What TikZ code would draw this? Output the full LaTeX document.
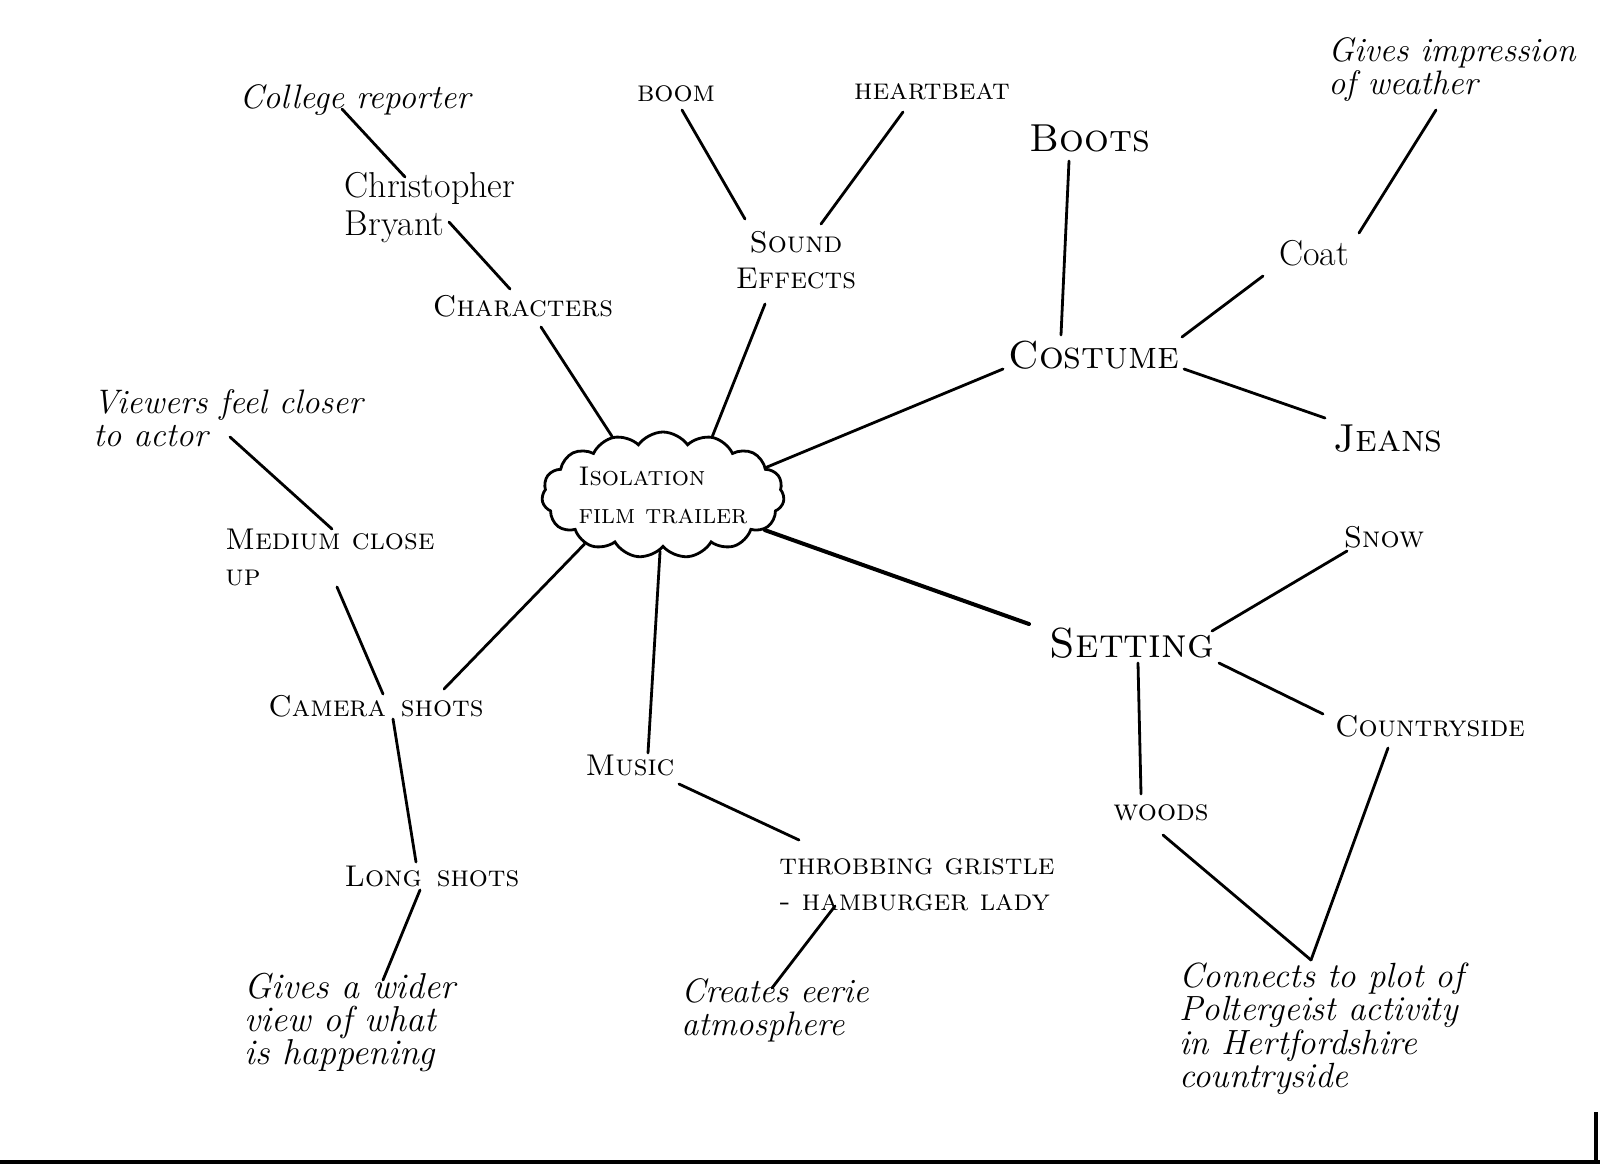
\documentclass[tikz,border=0pt]{standalone}
\usetikzlibrary{shapes.symbols,calc}
\begin{document}
\begin{tikzpicture}[x=0.5pt,y=-0.5pt,
  lbl/.style={inner sep=1pt, font=\fontsize{15}{18}\selectfont, align=center},
  bigl/.style={inner sep=1pt, font=\fontsize{19.5}{22}\selectfont},
  hand/.style={inner sep=1pt, font=\fontsize{17}{16.5}\selectfont\itshape, align=left},
  print/.style={inner sep=1pt, font=\fontsize{18}{19}\selectfont, align=left},
  link/.style={line width=1.4pt, line cap=round},
  thick link/.style={line width=2pt, line cap=round},
  cloudnode/.style={cloud, draw, line width=1.4pt, cloud puffs=15, cloud puff arc=110,
    cloud ignores aspect, minimum width=101pt, minimum height=63pt, inner sep=0pt, align=left,
    font=\fontsize{13.5}{19}\selectfont}]
\useasboundingbox (0,0) rectangle (1600,1164);
\fill[white] (0,0) rectangle (1600,1164);
% scan edges
\fill[black] (0,1160) rectangle (1600,1164);
\fill[black] (1594,1112) rectangle (1598,1164);

% centre
\node[cloudnode] (core) at (663,495) {\textsc{Isolation}\\\textsc{film trailer}};

% characters branch
\node[lbl] (characters) at (523,306) {\textsc{Characters}};
\node[print] (christopher) at (430,208) {Christopher\\Bryant};
\node[hand] (college) at (355,100) {College reporter};

% sound branch
\node[lbl] (sound) at (796,260) {\textsc{Sound}\\\textsc{Effects}};
\node[lbl] (boom) at (676,94) {\textsc{boom}};
\node[lbl] (heartbeat) at (932,92) {\textsc{heartbeat}};

% costume branch
\node[bigl] (costume) at (1094,355) {\textsc{Costume}};
\node[bigl] (boots) at (1090,138) {\textsc{Boots}};
\node[print] (coat) at (1314,253) {Coat};
\node[hand] (gives) at (1452,69) {Gives impression\\of weather};
\node[bigl] (jeans) at (1388,439) {\textsc{Jeans}};

% setting branch
\node[bigl, font=\fontsize{21}{22}\selectfont] (setting) at (1132,643) {\textsc{Setting}};
\node[lbl] (snow) at (1384,537) {\textsc{Snow}};
\node[lbl] (countryside) at (1430,726) {\textsc{Countryside}};
\node[lbl] (woods) at (1161,813) {\textsc{woods}};
\node[hand, anchor=north west, font=\fontsize{17.5}{15}\selectfont\itshape] (connects) at (1177,960) {Connects to plot of\\Poltergeist activity\\in Hertfordshire\\countryside};

% music branch
\node[lbl] (music) at (630,765) {\textsc{Music}};
\node[lbl, align=left] (throbbing) at (917,885) {\textsc{throbbing gristle}\\\textsc{- hamburger lady}};
\node[hand] (creates) at (775,1010) {Creates eerie\\atmosphere};

% camera branch
\node[lbl] (camera) at (376,706) {\textsc{Camera\enspace shots}};
\node[lbl, align=left] (medium) at (330,557) {\textsc{Medium close}\\\textsc{up}};
\node[hand] (viewers) at (228,418) {Viewers feel closer\\to actor};
\node[lbl] (longshots) at (432,876) {\textsc{Long\enspace shots}};
\node[hand, font=\fontsize{18}{16.5}\selectfont\itshape] (wider) at (350,1022) {Gives a wider\\view of what\\is happening};

% connectors from the centre
\draw[link] (core.131) -- ($(characters)+(18,21)$);
\draw[link] (core.50) -- ($(sound)+(-31,44)$);
\draw[link] (core.15) -- ($(costume)+(-91,14)$);
\draw[thick link] (core.-19) -- ($(setting)+(-103,-19)$);
\draw[link] (core.-93) -- ($(music)+(18,-12)$);
\draw[link] (core.-148) -- ($(camera)+(68,-17)$);

% characters
\draw[link] ($(characters)+(-13,-17)$) -- ($(christopher)+(19,14)$);
\draw[link] ($(christopher)+(-25,-31)$) -- ($(college)+(-13,9)$);

% sound
\draw[link] ($(sound)+(-51,-41)$) -- ($(boom)+(6,16)$);
\draw[link] ($(sound)+(25,-36)$) -- ($(heartbeat)+(-29,20)$);

% costume
\draw[link] ($(costume)+(-33,-20)$) -- ($(boots)+(-21,23)$);
\draw[link] ($(costume)+(88,-18)$) -- ($(coat)+(-51,23)$);
\draw[link] ($(coat)+(45,-20)$) -- ($(gives)+(-16,41)$);
\draw[link] ($(costume)+(90,14)$) -- ($(jeans)+(-63,-21)$);

% setting
\draw[link] ($(setting)+(80,-12)$) -- ($(snow)+(-37,14)$);
\draw[link] ($(setting)+(87,20)$) -- ($(countryside)+(-107,-12)$);
\draw[link] ($(setting)+(6,20)$) -- ($(woods)+(-20,-19)$);
\draw[link] ($(woods)+(2,22)$) -- ($(connects.north west)+(134,0)$);
\draw[link] ($(countryside)+(-42,22)$) -- ($(connects.north west)+(134,0)$);

% music
\draw[link] ($(music)+(49,19)$) -- ($(throbbing)+(-118,-45)$);
\draw[link] ($(throbbing)+(-82,21)$) -- ($(creates)+(-3,-22)$);

% camera
\draw[link] ($(medium)+(7,30)$) -- ($(camera)+(7,-12)$);
\draw[link] ($(medium)+(2,-28)$) -- ($(viewers)+(2,19)$);
\draw[link] ($(camera)+(17,13)$) -- ($(longshots)+(-16,-14)$);
\draw[link] ($(longshots)+(-12,14)$) -- ($(wider)+(33,-42)$);
\end{tikzpicture}
\end{document}
